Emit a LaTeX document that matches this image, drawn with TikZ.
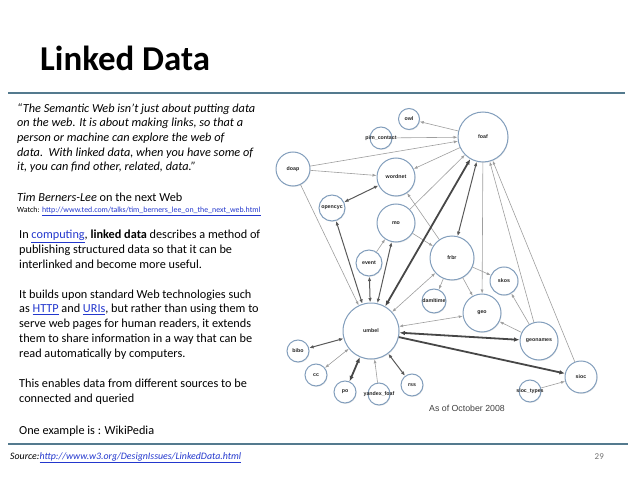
\documentclass[tikz,border=0pt]{standalone}
\usepackage{fontspec}
\setmainfont{Carlito}
\newfontfamily\graphfont{Liberation Sans}
\usetikzlibrary{arrows.meta,shadows}
\definecolor{rulecol}{RGB}{84,122,142}
\definecolor{linkblue}{RGB}{35,55,205}
\definecolor{ringcol}{RGB}{130,158,188}
\newcommand{\weblink}[1]{\textcolor{linkblue}{\underline{#1}}}
\tikzset{
  onto/.style={circle, draw=ringcol, line width=1bp, fill=white,
    minimum size=#1, inner sep=0pt,
    drop shadow={opacity=0.18, shadow xshift=0.6bp, shadow yshift=-0.9bp}},
  every label/.style={font=\graphfont\bfseries\fontsize{5.3}{5.3}\selectfont, text=black!85},
  lnk/.style={draw=black!38, line width=0.6bp, -{Latex[length=4bp,width=3bp]}},
  lnkboth/.style={lnk, {Latex[length=4bp,width=3bp]}-{Latex[length=4bp,width=3bp]}},
  dark/.style={draw=black!65, line width=1bp, {Latex[length=4.5bp,width=3.5bp]}-{Latex[length=4.5bp,width=3.5bp]}},
  heavy/.style={draw=black!72, line width=1.8bp, -{Latex[length=5.5bp,width=4.5bp]}},
  heavyboth/.style={heavy, {Latex[length=5.5bp,width=4.5bp]}-{Latex[length=5.5bp,width=4.5bp]}},
  txt/.style={align=left, inner sep=0pt, anchor=base west,
    font=\fontsize{12.3}{14.8}\selectfont}
}
\begin{document}
\begin{tikzpicture}[x=1bp, y=-1bp]
    \useasboundingbox (0,0) rectangle (638,479);

    % title and rules
    \node[anchor=base west, inner sep=0pt, font=\fontsize{35}{35}\selectfont\bfseries] (title) at (40,71) {Linked Data};
    \draw[rulecol, line width=1.4bp] (8,93) -- (625,93);
    \draw[rulecol, line width=1.4bp] (8,444) -- (628,444);

    % left column (anchors sit on the last line)
    \node[txt, font=\fontsize{12.3}{14.8}\selectfont\itshape] (quote) at (17,171)
      {“The Semantic Web isn’t just about putting data\\
       on the web. It is about making links, so that a\\
       person or machine can explore the web of\\
       data.\ \ With linked data, when you have some of\\
       it, you can find other, related, data.”};
    \node[txt] (tbl) at (17,202) {\textit{Tim Berners-Lee} on the next Web};
    \node[txt, font=\fontsize{7.9}{8}\selectfont] (watch) at (17,213)
      {Watch: \weblink{http://www.ted.com/talks/tim\_berners\_lee\_on\_the\_next\_web.html}};
    \node[txt] (para1) at (19,268)
      {In \weblink{computing}, \textbf{linked data} describes a method of\\
       publishing structured data so that it can be\\
       interlinked and become more useful.};
    \node[txt] (para2) at (19,357)
      {It builds upon standard Web technologies such\\
       as \weblink{HTTP} and \weblink{URIs}, but rather than using them to\\
       serve web pages for human readers, it extends\\
       them to share information in a way that can be\\
       read automatically by computers.};
    \node[txt] (para3) at (19,402)
      {This enables data from different sources to be\\
       connected and queried};
    \node[txt] (para4) at (19,434) {One example is : WikiPedia};

    % footer
    \node[anchor=base west, inner sep=0pt, font=\fontsize{9.9}{10}\selectfont\itshape] (source) at (10,459)
      {Source:\weblink{http://www.w3.org/DesignIssues/LinkedData.html}};
    \node[anchor=base east, inner sep=0pt, text=black!55, font=\fontsize{9}{9}\selectfont] (pageno) at (604,459) {29};

    % vocabularies
    \node[onto=50bp, label=center:foaf] (foaf) at (483,137) {};
    \node[onto=21bp, label=center:owl] (owl) at (409,119) {};
    \node[onto=22bp, label=center:pim\_contact] (pim) at (381,138) {};
    \node[onto=34bp, label=center:doap] (doap) at (293,169) {};
    \node[onto=38bp, label=center:wordnet] (wordnet) at (396,177) {};
    \node[onto=26bp, label=center:opencyc] (opencyc) at (332,208) {};
    \node[onto=38bp, label=center:mo] (mo) at (396,223) {};
    \node[onto=44bp, label=center:frbr] (frbr) at (452,258) {};
    \node[onto=26bp, label=center:event] (event) at (369,263) {};
    \node[onto=28bp, label=center:skos] (skos) at (504,281) {};
    \node[onto=24bp, label=center:damltime] (damltime) at (434,301) {};
    \node[onto=38bp, label=center:geo] (geo) at (482,313) {};
    \node[onto=56bp, label=center:umbel] (umbel) at (371,331) {};
    \node[onto=38bp, label=center:geonames] (geonames) at (539,341) {};
    \node[onto=32bp, label=center:sioc] (sioc) at (581,377) {};
    \node[onto=22bp, label=center:sioc\_types] (sioctypes) at (530,391) {};
    \node[onto=22bp, label=center:bibo] (bibo) at (298,351) {};
    \node[onto=22bp, label=center:cc] (cc) at (316,375) {};
    \node[onto=22bp, label=center:po] (po) at (345,392) {};
    \node[onto=22bp, label=center:yandex\_foaf] (yandex) at (379,394) {};
    \node[onto=22bp, label=center:rss] (rss) at (412,385) {};
    \node[font=\graphfont\fontsize{8.8}{9}\selectfont, text=black!75] (asof) at (467,408) {As of October 2008};

    % links
    \draw[lnk] (foaf) -- (owl);
    \draw[lnk] (pim) -- (foaf);
    \draw[lnk] (doap) -- (foaf);
    \draw[lnk] (doap) -- (wordnet);
    \draw[lnk] (foaf) -- (wordnet);
    \draw[dark] (opencyc) -- (wordnet);
    \draw[lnk] (doap) -- (umbel);
    \draw[dark] (opencyc) -- (umbel);
    \draw[dark] (event) -- (umbel);
    \draw[dark] (mo) -- (umbel);
    \draw[lnk] (event) -- (mo);
    \draw[lnk] (mo) -- (frbr);
    \draw[lnk] (frbr) -- (wordnet);
    \draw[lnk] (mo) -- (foaf);
    \draw[heavyboth] (umbel) -- (foaf);
    \draw[dark] (frbr) -- (foaf);
    \draw[lnk] (foaf) -- (geo);
    \draw[lnk] (geonames) -- (foaf);
    \draw[lnk] (sioc) -- (foaf);
    \draw[lnk] (frbr) -- (skos);
    \draw[lnk] (frbr) -- (geo);
    \draw[lnk] (frbr) -- (damltime);
    \draw[lnkboth] (umbel) -- (frbr);
    \draw[lnkboth] (umbel) -- (geo);
    \draw[heavyboth] (umbel) -- (geonames);
    \draw[heavy] (umbel) -- (sioc);
    \draw[lnk] (geonames) -- (geo);
    \draw[lnk] (geonames) -- (skos);
    \draw[lnk] (sioctypes) -- (sioc);
    \draw[dark] (umbel) -- (bibo);
    \draw[lnkboth] (umbel) -- (cc);
    \draw[heavyboth] (umbel) -- (po);
    \draw[lnk] (yandex) -- (umbel);
    \draw[dark] (umbel) -- (rss);
\end{tikzpicture}
\end{document}
